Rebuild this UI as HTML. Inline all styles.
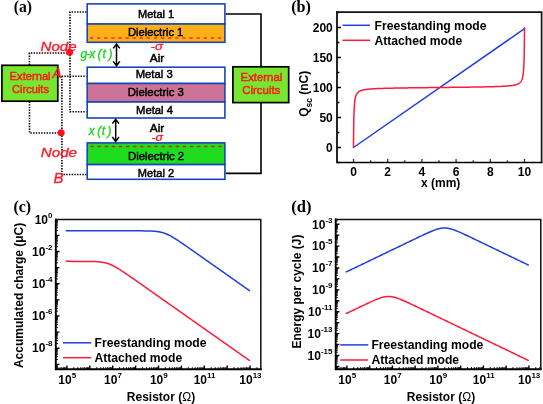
<!DOCTYPE html>
<html><head><meta charset="utf-8"><title>Figure</title>
<style>html,body{margin:0;padding:0;background:#fff}svg{display:block}text{white-space:pre}</style>
</head><body>
<svg width="543" height="404" viewBox="0 0 543 404">
<rect width="543" height="404" fill="#fff"/>
<g id="panel-a">
<text x="13.8" y="11.8" font-family='"Liberation Serif", "Times New Roman", serif' font-weight="bold" font-size="16.5" textLength="18.2" lengthAdjust="spacingAndGlyphs">(a)</text>
<path d="M86.5 12 H70 V111.8 H86.5" stroke="#000" stroke-width="1.6" stroke-dasharray="1.4 1.3" fill="none"/>
<path d="M29.4 65 V53 H70" stroke="#000" stroke-width="1.6" stroke-dasharray="1.4 1.3" fill="none"/>
<path d="M59 76.2 H86.5" stroke="#000" stroke-width="1.6" stroke-dasharray="1.4 1.3" fill="none"/>
<path d="M61.9 76.2 V174.5 H86.5" stroke="#000" stroke-width="1.6" stroke-dasharray="1.4 1.3" fill="none"/>
<path d="M29.5 101.5 V133 H61" stroke="#000" stroke-width="1.6" stroke-dasharray="1.4 1.3" fill="none"/>
<path d="M225.5 14 H261 V173.4 H225.5" stroke="#000" stroke-width="1.6" fill="none"/>
<rect x="87.2" y="3.9" width="137.70" height="20.10" fill="#fff" stroke="#1846b8" stroke-width="1.6"/>
<rect x="87.2" y="24.0" width="137.70" height="18.30" fill="#fbb016" stroke="#1846b8" stroke-width="1.6"/>
<rect x="87.2" y="67.2" width="137.70" height="16.30" fill="#fff" stroke="#1846b8" stroke-width="1.6"/>
<rect x="87.2" y="83.5" width="137.70" height="18.50" fill="#cd7397" stroke="#1846b8" stroke-width="1.6"/>
<rect x="87.2" y="102" width="137.70" height="16.00" fill="#fff" stroke="#1846b8" stroke-width="1.6"/>
<rect x="87.2" y="142.9" width="137.70" height="21.70" fill="#1fdc1f" stroke="#1846b8" stroke-width="1.6"/>
<rect x="87.2" y="164.6" width="137.70" height="14.70" fill="#fff" stroke="#1846b8" stroke-width="1.6"/>
<path d="M90 37.9 H223" stroke="#ff2a2a" stroke-width="1.5" stroke-dasharray="3.3 3.8" fill="none"/>
<path d="M90.5 146.4 H223" stroke="#d4260e" stroke-width="1.5" stroke-dasharray="3.3 3.8" fill="none"/>
<rect x="1.9" y="65.3" width="55.9" height="35.9" fill="#77e631" stroke="#000" stroke-width="1.7"/>
<rect x="232.9" y="66.8" width="55.8" height="35.8" fill="#77e631" stroke="#000" stroke-width="1.7"/>
<text x="138" y="17.7" font-family='"Liberation Sans", Arial, Helvetica, sans-serif' font-size="11.6" fill="#000" stroke="#000" stroke-width="0.5" textLength="36.2" lengthAdjust="spacingAndGlyphs" >Metal 1</text>
<text x="128" y="35.5" font-family='"Liberation Sans", Arial, Helvetica, sans-serif' font-size="11.6" fill="#000" stroke="#000" stroke-width="0.5" textLength="55.3" lengthAdjust="spacingAndGlyphs" >Dielectric 1</text>
<text x="135.7" y="78.3" font-family='"Liberation Sans", Arial, Helvetica, sans-serif' font-size="11.6" fill="#000" stroke="#000" stroke-width="0.5" textLength="37.0" lengthAdjust="spacingAndGlyphs" >Metal 3</text>
<text x="127.8" y="96.3" font-family='"Liberation Sans", Arial, Helvetica, sans-serif' font-size="11.6" fill="#000" stroke="#000" stroke-width="0.5" textLength="56.1" lengthAdjust="spacingAndGlyphs" >Dielectric 3</text>
<text x="136" y="114" font-family='"Liberation Sans", Arial, Helvetica, sans-serif' font-size="11.6" fill="#000" stroke="#000" stroke-width="0.5" textLength="37.0" lengthAdjust="spacingAndGlyphs" >Metal 4</text>
<text x="128" y="159.6" font-family='"Liberation Sans", Arial, Helvetica, sans-serif' font-size="11.6" fill="#000" stroke="#000" stroke-width="0.5" textLength="56.1" lengthAdjust="spacingAndGlyphs" >Dielectric 2</text>
<text x="137.8" y="176.7" font-family='"Liberation Sans", Arial, Helvetica, sans-serif' font-size="11.6" fill="#000" stroke="#000" stroke-width="0.5" textLength="36.3" lengthAdjust="spacingAndGlyphs" >Metal 2</text>
<text x="149.8" y="61.5" font-family='"Liberation Sans", Arial, Helvetica, sans-serif' font-size="11.6" fill="#000" stroke="#000" stroke-width="0.5" textLength="14.5" lengthAdjust="spacingAndGlyphs" >Air</text>
<text x="149.8" y="131.8" font-family='"Liberation Sans", Arial, Helvetica, sans-serif' font-size="11.6" fill="#000" stroke="#000" stroke-width="0.5" textLength="14.5" lengthAdjust="spacingAndGlyphs" >Air</text>
<text x="9.6" y="79.7" font-family='"Liberation Sans", Arial, Helvetica, sans-serif' font-size="11.8" fill="#ff1a1a" stroke="#ff1a1a" stroke-width="0.5" textLength="41.0" lengthAdjust="spacingAndGlyphs" >External</text>
<text x="12" y="93" font-family='"Liberation Sans", Arial, Helvetica, sans-serif' font-size="11.8" fill="#ff1a1a" stroke="#ff1a1a" stroke-width="0.5" textLength="37.0" lengthAdjust="spacingAndGlyphs" >Circuits</text>
<text x="240.6" y="80.7" font-family='"Liberation Sans", Arial, Helvetica, sans-serif' font-size="11.8" fill="#ff1a1a" stroke="#ff1a1a" stroke-width="0.5" textLength="41.7" lengthAdjust="spacingAndGlyphs" >External</text>
<text x="242.3" y="94" font-family='"Liberation Sans", Arial, Helvetica, sans-serif' font-size="11.8" fill="#ff1a1a" stroke="#ff1a1a" stroke-width="0.5" textLength="38.0" lengthAdjust="spacingAndGlyphs" >Circuits</text>
<text x="40.5" y="51.4" font-family='"Liberation Sans", Arial, Helvetica, sans-serif' font-size="13" fill="#ff1a2a" stroke="#ff1a2a" stroke-width="0.35" textLength="36.1" lengthAdjust="spacingAndGlyphs" font-style="italic">Node</text>
<text x="52.4" y="77.6" font-family='"Liberation Sans", Arial, Helvetica, sans-serif' font-size="14.5" fill="#ff1a2a" stroke="#ff1a2a" stroke-width="0.35" textLength="9.2" lengthAdjust="spacingAndGlyphs" font-style="italic">A</text>
<text x="40.8" y="157.4" font-family='"Liberation Sans", Arial, Helvetica, sans-serif' font-size="13" fill="#ff1a2a" stroke="#ff1a2a" stroke-width="0.35" textLength="36.2" lengthAdjust="spacingAndGlyphs" font-style="italic">Node</text>
<text x="53.6" y="183" font-family='"Liberation Sans", Arial, Helvetica, sans-serif' font-size="14.5" fill="#ff1a2a" stroke="#ff1a2a" stroke-width="0.35" textLength="10.0" lengthAdjust="spacingAndGlyphs" font-style="italic">B</text>
<text x="150.6" y="50.4" font-family='"Liberation Sans", Arial, Helvetica, sans-serif' font-size="11" fill="#ff1a2a" stroke="#ff1a2a" stroke-width="0.35" textLength="12.2" lengthAdjust="spacingAndGlyphs" font-style="italic">-σ</text>
<text x="151.4" y="141.2" font-family='"Liberation Sans", Arial, Helvetica, sans-serif' font-size="11" fill="#ff1a2a" stroke="#ff1a2a" stroke-width="0.35" textLength="11.4" lengthAdjust="spacingAndGlyphs" font-style="italic">-σ</text>
<text x="80.4 86.4 89.2 97.6 102.5 108.4" y="57.8" font-family='"Liberation Sans", Arial, Helvetica, sans-serif' font-style="italic" fill="#22d422" stroke="#22d422" stroke-width="0.35" font-size="12">g-x(t)</text>
<text x="88.7 97.2 101.7 107.4" y="134.8" font-family='"Liberation Sans", Arial, Helvetica, sans-serif' font-style="italic" fill="#22d422" stroke="#22d422" stroke-width="0.35" font-size="12">x(t)</text>
<circle cx="69.6" cy="52.3" r="3.5" fill="#ff1020"/>
<circle cx="61.2" cy="132.8" r="3.5" fill="#ff1020"/>
<path d="M116.5 44.0 V65.8 M113.2 48.4 L116.5 44.0 L119.8 48.4 M113.2 61.4 L116.5 65.8 L119.8 61.4" stroke="#000" stroke-width="1.5" fill="none" stroke-linejoin="miter"/>
<path d="M115.7 119.2 V141.39999999999998 M112.4 123.60000000000001 L115.7 119.2 L119.0 123.60000000000001 M112.4 136.99999999999997 L115.7 141.39999999999998 L119.0 136.99999999999997" stroke="#000" stroke-width="1.5" fill="none" stroke-linejoin="miter"/>
</g>
<g id="panel-b">
<text x="291.2" y="11.8" font-family='"Liberation Serif", "Times New Roman", serif' font-weight="bold" font-size="16.5" textLength="19.8" lengthAdjust="spacingAndGlyphs">(b)</text>
<path d="M353.50 162.5 v-3.6 M370.60 162.5 v-2.2 M387.70 162.5 v-3.6 M404.80 162.5 v-2.2 M421.90 162.5 v-3.6 M439.00 162.5 v-2.2 M456.10 162.5 v-3.6 M473.20 162.5 v-2.2 M490.30 162.5 v-3.6 M507.40 162.5 v-2.2 M524.50 162.5 v-3.6" stroke="#1c2cb0" stroke-width="1.3" fill="none"/>
<path d="M337 162.50 h2.4 M337 147.50 h4.0 M337 132.50 h2.4 M337 117.50 h4.0 M337 102.50 h2.4 M337 87.50 h4.0 M337 72.50 h2.4 M337 57.50 h4.0 M337 42.50 h2.4 M337 27.50 h4.0 M337 12.50 h2.4" stroke="#000" stroke-width="1.4" fill="none"/>
<path d="M353.50 147.50 L524.50 28.70" stroke="#1f3fe0" stroke-width="1.5" fill="none" stroke-linejoin="round" stroke-linecap="round"/>
<path d="M353.50 147.22 L353.50 147.22 L353.50 147.22 L353.50 147.22 L353.50 147.22 L353.50 147.21 L353.50 147.20 L353.50 147.18 L353.50 147.15 L353.50 147.12 L353.50 147.06 L353.50 146.99 L353.50 146.89 L353.50 146.77 L353.50 146.62 L353.51 146.43 L353.51 146.20 L353.51 145.93 L353.51 145.61 L353.51 145.23 L353.52 144.80 L353.52 144.30 L353.52 143.74 L353.53 143.11 L353.53 142.42 L353.54 141.65 L353.55 140.81 L353.55 139.89 L353.56 138.91 L353.57 137.86 L353.58 136.75 L353.59 135.57 L353.60 134.35 L353.62 133.07 L353.63 131.75 L353.65 130.40 L353.67 129.01 L353.69 127.61 L353.71 126.20 L353.73 124.78 L353.75 123.36 L353.78 121.95 L353.81 120.55 L353.84 119.18 L353.87 117.83 L353.90 116.51 L353.94 115.22 L353.98 113.97 L354.02 112.76 L354.06 111.59 L354.11 110.46 L354.16 109.38 L354.21 108.34 L354.27 107.34 L354.33 106.39 L354.39 105.48 L354.45 104.62 L354.52 103.79 L354.59 103.01 L354.67 102.26 L354.75 101.55 L354.83 100.88 L354.92 100.24 L355.01 99.64 L355.11 99.07 L355.21 98.53 L355.31 98.01 L355.42 97.53 L355.54 97.07 L355.66 96.63 L355.78 96.22 L355.91 95.83 L356.04 95.46 L356.18 95.11 L356.33 94.78 L356.48 94.46 L356.63 94.17 L356.80 93.88 L356.96 93.62 L357.14 93.36 L357.32 93.12 L357.50 92.90 L357.70 92.68 L357.90 92.47 L358.10 92.28 L358.32 92.09 L358.54 91.92 L358.76 91.75 L359.00 91.59 L359.24 91.44 L359.48 91.30 L359.74 91.16 L360.00 91.03 L360.27 90.90 L360.55 90.79 L360.84 90.67 L361.13 90.56 L361.43 90.46 L361.74 90.36 L362.06 90.27 L362.39 90.18 L362.73 90.09 L363.07 90.01 L363.42 89.93 L363.78 89.85 L364.15 89.78 L364.53 89.71 L364.92 89.64 L365.32 89.58 L365.72 89.52 L366.14 89.46 L366.56 89.40 L367.00 89.35 L367.44 89.30 L367.89 89.25 L368.35 89.20 L368.82 89.15 L369.31 89.10 L369.80 89.06 L370.30 89.02 L370.81 88.98 L371.33 88.94 L371.85 88.90 L372.39 88.86 L372.94 88.83 L373.50 88.79 L374.07 88.76 L374.65 88.73 L375.24 88.70 L375.84 88.67 L376.44 88.64 L377.06 88.61 L377.69 88.58 L378.33 88.55 L378.98 88.53 L379.63 88.50 L380.30 88.48 L380.98 88.45 L381.66 88.43 L382.36 88.41 L383.07 88.38 L383.78 88.36 L384.51 88.34 L385.24 88.32 L385.99 88.30 L386.74 88.28 L387.50 88.26 L388.27 88.24 L389.05 88.22 L389.84 88.20 L390.64 88.18 L391.45 88.17 L392.27 88.15 L393.09 88.13 L393.93 88.11 L394.77 88.10 L395.62 88.08 L396.48 88.07 L397.35 88.05 L398.23 88.03 L399.11 88.02 L400.00 88.00 L400.90 87.99 L401.80 87.97 L402.72 87.96 L403.64 87.94 L404.57 87.93 L405.50 87.92 L406.44 87.90 L407.39 87.89 L408.35 87.87 L409.31 87.86 L410.27 87.85 L411.25 87.83 L412.22 87.82 L413.21 87.81 L414.20 87.79 L415.19 87.78 L416.19 87.77 L417.19 87.76 L418.20 87.74 L419.21 87.73 L420.23 87.72 L421.25 87.71 L422.28 87.69 L423.30 87.68 L424.34 87.67 L425.37 87.66 L426.41 87.64 L427.45 87.63 L428.49 87.62 L429.53 87.61 L430.58 87.60 L431.63 87.58 L432.68 87.57 L433.73 87.56 L434.78 87.55 L435.84 87.54 L436.89 87.52 L437.95 87.51 L439.00 87.50 L440.05 87.49 L441.11 87.48 L442.16 87.46 L443.22 87.45 L444.27 87.44 L445.32 87.43 L446.37 87.42 L447.42 87.40 L448.47 87.39 L449.51 87.38 L450.55 87.37 L451.59 87.36 L452.63 87.34 L453.66 87.33 L454.70 87.32 L455.72 87.31 L456.75 87.29 L457.77 87.28 L458.79 87.27 L459.80 87.26 L460.81 87.24 L461.81 87.23 L462.81 87.22 L463.80 87.21 L464.79 87.19 L465.78 87.18 L466.75 87.17 L467.73 87.15 L468.69 87.14 L469.65 87.13 L470.61 87.11 L471.56 87.10 L472.50 87.08 L473.43 87.07 L474.36 87.06 L475.28 87.04 L476.20 87.03 L477.10 87.01 L478.00 87.00 L478.89 86.98 L479.77 86.97 L480.65 86.95 L481.52 86.93 L482.38 86.92 L483.23 86.90 L484.07 86.89 L484.91 86.87 L485.73 86.85 L486.55 86.83 L487.36 86.82 L488.16 86.80 L488.95 86.78 L489.73 86.76 L490.50 86.74 L491.26 86.72 L492.01 86.70 L492.76 86.68 L493.49 86.66 L494.22 86.64 L494.93 86.62 L495.64 86.59 L496.34 86.57 L497.02 86.55 L497.70 86.52 L498.37 86.50 L499.02 86.47 L499.67 86.45 L500.31 86.42 L500.94 86.39 L501.56 86.36 L502.16 86.33 L502.76 86.30 L503.35 86.27 L503.93 86.24 L504.50 86.21 L505.06 86.17 L505.61 86.14 L506.15 86.10 L506.67 86.06 L507.19 86.02 L507.70 85.98 L508.20 85.94 L508.69 85.90 L509.18 85.85 L509.65 85.80 L510.11 85.75 L510.56 85.70 L511.00 85.65 L511.44 85.60 L511.86 85.54 L512.28 85.48 L512.68 85.42 L513.08 85.36 L513.47 85.29 L513.85 85.22 L514.22 85.15 L514.58 85.07 L514.93 84.99 L515.27 84.91 L515.61 84.82 L515.94 84.73 L516.26 84.64 L516.57 84.54 L516.87 84.44 L517.16 84.33 L517.45 84.21 L517.73 84.10 L518.00 83.97 L518.26 83.84 L518.52 83.70 L518.76 83.56 L519.00 83.41 L519.24 83.25 L519.46 83.08 L519.68 82.91 L519.90 82.72 L520.10 82.53 L520.30 82.32 L520.50 82.10 L520.68 81.88 L520.86 81.64 L521.04 81.38 L521.20 81.12 L521.37 80.83 L521.52 80.54 L521.67 80.22 L521.82 79.89 L521.96 79.54 L522.09 79.17 L522.22 78.78 L522.34 78.37 L522.46 77.93 L522.58 77.47 L522.69 76.99 L522.79 76.47 L522.89 75.93 L522.99 75.36 L523.08 74.76 L523.17 74.12 L523.25 73.45 L523.33 72.74 L523.41 71.99 L523.48 71.21 L523.55 70.38 L523.61 69.52 L523.67 68.61 L523.73 67.66 L523.79 66.66 L523.84 65.62 L523.89 64.54 L523.94 63.41 L523.98 62.24 L524.02 61.03 L524.06 59.78 L524.10 58.49 L524.13 57.17 L524.16 55.82 L524.19 54.45 L524.22 53.05 L524.25 51.64 L524.27 50.22 L524.29 48.80 L524.31 47.39 L524.33 45.99 L524.35 44.60 L524.37 43.25 L524.38 41.93 L524.40 40.65 L524.41 39.43 L524.42 38.25 L524.43 37.14 L524.44 36.09 L524.45 35.11 L524.45 34.19 L524.46 33.35 L524.47 32.58 L524.47 31.89 L524.48 31.26 L524.48 30.70 L524.48 30.20 L524.49 29.77 L524.49 29.39 L524.49 29.07 L524.49 28.80 L524.49 28.57 L524.50 28.38 L524.50 28.23 L524.50 28.11 L524.50 28.01 L524.50 27.94 L524.50 27.88 L524.50 27.85 L524.50 27.82 L524.50 27.80 L524.50 27.79 L524.50 27.78 L524.50 27.78 L524.50 27.78 L524.50 27.78 L524.50 27.78" stroke="#ff1a3c" stroke-width="1.5" fill="none" stroke-linejoin="round" stroke-linecap="round"/>
<path d="M337 12.2 V162.5 H541.6" stroke="#000" stroke-width="1.7" fill="none" stroke-linecap="square"/>
<path d="M337 12.2 H541.6 V162.5" stroke="#111" stroke-width="1.7" fill="none" stroke-linecap="square"/>
<text x="332.8" y="151.7" font-family='"Liberation Sans", Arial, Helvetica, sans-serif' font-weight="bold" font-size="12" text-anchor="end" >0</text>
<text x="332.8" y="121.7" font-family='"Liberation Sans", Arial, Helvetica, sans-serif' font-weight="bold" font-size="12" text-anchor="end" >50</text>
<text x="332.8" y="91.7" font-family='"Liberation Sans", Arial, Helvetica, sans-serif' font-weight="bold" font-size="12" text-anchor="end" >100</text>
<text x="332.8" y="61.7" font-family='"Liberation Sans", Arial, Helvetica, sans-serif' font-weight="bold" font-size="12" text-anchor="end" >150</text>
<text x="332.8" y="31.7" font-family='"Liberation Sans", Arial, Helvetica, sans-serif' font-weight="bold" font-size="12" text-anchor="end" >200</text>
<text x="353.5" y="175.6" font-family='"Liberation Sans", Arial, Helvetica, sans-serif' font-weight="bold" font-size="12" text-anchor="middle" >0</text>
<text x="387.7" y="175.6" font-family='"Liberation Sans", Arial, Helvetica, sans-serif' font-weight="bold" font-size="12" text-anchor="middle" >2</text>
<text x="421.9" y="175.6" font-family='"Liberation Sans", Arial, Helvetica, sans-serif' font-weight="bold" font-size="12" text-anchor="middle" >4</text>
<text x="456.1" y="175.6" font-family='"Liberation Sans", Arial, Helvetica, sans-serif' font-weight="bold" font-size="12" text-anchor="middle" >6</text>
<text x="490.3" y="175.6" font-family='"Liberation Sans", Arial, Helvetica, sans-serif' font-weight="bold" font-size="12" text-anchor="middle" >8</text>
<text x="524.5" y="175.6" font-family='"Liberation Sans", Arial, Helvetica, sans-serif' font-weight="bold" font-size="12" text-anchor="middle" >10</text>
<text x="440.7" y="186.6" font-family='"Liberation Sans", Arial, Helvetica, sans-serif' font-weight="bold" font-size="12" text-anchor="middle" >x (mm)</text>
<text transform="translate(308.3 93.8) rotate(-90)" font-family='"Liberation Sans", Arial, Helvetica, sans-serif' font-weight="bold" font-size="12" text-anchor="middle">Q<tspan font-size="8.5" dy="3.6">sc</tspan><tspan dy="-3.6"> (nC)</tspan></text>
<path d="M342.5 25.3 H370" stroke="#1f3fe0" stroke-width="1.5"/>
<path d="M342.5 40.3 H370" stroke="#ff1a3c" stroke-width="1.5"/>
<text x="374.5" y="29.7" font-family='"Liberation Sans", Arial, Helvetica, sans-serif' font-weight="bold" font-size="12.15" text-anchor="start" >Freestanding mode</text>
<text x="374.5" y="45" font-family='"Liberation Sans", Arial, Helvetica, sans-serif' font-weight="bold" font-size="12.15" text-anchor="start" >Attached mode</text>
</g>
<g id="panel-c">
<text x="13.5" y="212" font-family='"Liberation Serif", "Times New Roman", serif' font-weight="bold" font-size="16.5" textLength="17.6" lengthAdjust="spacingAndGlyphs">(c)</text>
<path d="M57.79 369.3 v-2.2 M60.01 369.3 v-2.2 M61.82 369.3 v-2.2 M63.35 369.3 v-2.2 M64.68 369.3 v-2.2 M65.85 369.3 v-2.2 M73.79 369.3 v-2.2 M77.83 369.3 v-2.2 M80.69 369.3 v-2.2 M82.91 369.3 v-2.2 M84.72 369.3 v-2.2 M86.25 369.3 v-2.2 M87.58 369.3 v-2.2 M88.75 369.3 v-2.2 M96.69 369.3 v-2.2 M100.73 369.3 v-2.2 M103.59 369.3 v-2.2 M105.81 369.3 v-2.2 M107.62 369.3 v-2.2 M109.15 369.3 v-2.2 M110.48 369.3 v-2.2 M111.65 369.3 v-2.2 M119.59 369.3 v-2.2 M123.63 369.3 v-2.2 M126.49 369.3 v-2.2 M128.71 369.3 v-2.2 M130.52 369.3 v-2.2 M132.05 369.3 v-2.2 M133.38 369.3 v-2.2 M134.55 369.3 v-2.2 M142.49 369.3 v-2.2 M146.53 369.3 v-2.2 M149.39 369.3 v-2.2 M151.61 369.3 v-2.2 M153.42 369.3 v-2.2 M154.95 369.3 v-2.2 M156.28 369.3 v-2.2 M157.45 369.3 v-2.2 M165.39 369.3 v-2.2 M169.43 369.3 v-2.2 M172.29 369.3 v-2.2 M174.51 369.3 v-2.2 M176.32 369.3 v-2.2 M177.85 369.3 v-2.2 M179.18 369.3 v-2.2 M180.35 369.3 v-2.2 M188.29 369.3 v-2.2 M192.33 369.3 v-2.2 M195.19 369.3 v-2.2 M197.41 369.3 v-2.2 M199.22 369.3 v-2.2 M200.75 369.3 v-2.2 M202.08 369.3 v-2.2 M203.25 369.3 v-2.2 M211.19 369.3 v-2.2 M215.23 369.3 v-2.2 M218.09 369.3 v-2.2 M220.31 369.3 v-2.2 M222.12 369.3 v-2.2 M223.65 369.3 v-2.2 M224.98 369.3 v-2.2 M226.15 369.3 v-2.2 M234.09 369.3 v-2.2 M238.13 369.3 v-2.2 M240.99 369.3 v-2.2 M243.21 369.3 v-2.2 M245.02 369.3 v-2.2 M246.55 369.3 v-2.2 M247.88 369.3 v-2.2 M249.05 369.3 v-2.2 M256.99 369.3 v-2.2" stroke="#000" stroke-width="0.9" fill="none"/>
<path d="M66.90 369.3 v-3.7 M89.80 369.3 v-3.7 M112.70 369.3 v-3.7 M135.60 369.3 v-3.7 M158.50 369.3 v-3.7 M181.40 369.3 v-3.7 M204.30 369.3 v-3.7 M227.20 369.3 v-3.7 M250.10 369.3 v-3.7" stroke="#000" stroke-width="1.4" fill="none"/>
<path d="M55.8 369.23 h2.2 M55.8 367.96 h2.2 M55.8 366.88 h2.2 M55.8 365.94 h2.2 M55.8 365.12 h2.2 M55.8 359.53 h2.2 M55.8 356.69 h2.2 M55.8 354.67 h2.2 M55.8 353.11 h2.2 M55.8 351.84 h2.2 M55.8 350.76 h2.2 M55.8 349.82 h2.2 M55.8 349.00 h2.2 M55.8 343.41 h2.2 M55.8 340.57 h2.2 M55.8 338.55 h2.2 M55.8 336.99 h2.2 M55.8 335.72 h2.2 M55.8 334.64 h2.2 M55.8 333.70 h2.2 M55.8 332.88 h2.2 M55.8 327.29 h2.2 M55.8 324.45 h2.2 M55.8 322.43 h2.2 M55.8 320.87 h2.2 M55.8 319.60 h2.2 M55.8 318.52 h2.2 M55.8 317.58 h2.2 M55.8 316.76 h2.2 M55.8 311.17 h2.2 M55.8 308.33 h2.2 M55.8 306.31 h2.2 M55.8 304.75 h2.2 M55.8 303.48 h2.2 M55.8 302.40 h2.2 M55.8 301.46 h2.2 M55.8 300.64 h2.2 M55.8 295.05 h2.2 M55.8 292.21 h2.2 M55.8 290.19 h2.2 M55.8 288.63 h2.2 M55.8 287.36 h2.2 M55.8 286.28 h2.2 M55.8 285.34 h2.2 M55.8 284.52 h2.2 M55.8 278.93 h2.2 M55.8 276.09 h2.2 M55.8 274.07 h2.2 M55.8 272.51 h2.2 M55.8 271.24 h2.2 M55.8 270.16 h2.2 M55.8 269.22 h2.2 M55.8 268.40 h2.2 M55.8 262.81 h2.2 M55.8 259.97 h2.2 M55.8 257.95 h2.2 M55.8 256.39 h2.2 M55.8 255.12 h2.2 M55.8 254.04 h2.2 M55.8 253.10 h2.2 M55.8 252.28 h2.2 M55.8 246.69 h2.2 M55.8 243.85 h2.2 M55.8 241.83 h2.2 M55.8 240.27 h2.2 M55.8 239.00 h2.2 M55.8 237.92 h2.2 M55.8 236.98 h2.2 M55.8 236.16 h2.2 M55.8 230.57 h2.2 M55.8 227.73 h2.2 M55.8 225.71 h2.2 M55.8 224.15 h2.2 M55.8 222.88 h2.2 M55.8 221.80 h2.2 M55.8 220.86 h2.2 M55.8 220.04 h2.2" stroke="#000" stroke-width="0.9" fill="none"/>
<path d="M55.8 364.38 h3.7 M55.8 348.26 h3.7 M55.8 332.14 h3.7 M55.8 316.02 h3.7 M55.8 299.90 h3.7 M55.8 283.78 h3.7 M55.8 267.66 h3.7 M55.8 251.54 h3.7 M55.8 235.42 h3.7" stroke="#000" stroke-width="1.4" fill="none"/>
<path d="M66.30 230.83 L66.87 230.83 L67.45 230.83 L68.02 230.83 L68.59 230.83 L69.16 230.83 L69.74 230.83 L70.31 230.83 L70.88 230.83 L71.45 230.83 L72.03 230.83 L72.60 230.83 L73.17 230.83 L73.74 230.83 L74.31 230.83 L74.89 230.83 L75.46 230.83 L76.03 230.83 L76.61 230.83 L77.18 230.83 L77.75 230.83 L78.32 230.83 L78.90 230.83 L79.47 230.83 L80.04 230.83 L80.61 230.83 L81.19 230.83 L81.76 230.83 L82.33 230.83 L82.90 230.83 L83.48 230.83 L84.05 230.83 L84.62 230.83 L85.19 230.83 L85.77 230.83 L86.34 230.83 L86.91 230.83 L87.48 230.83 L88.06 230.83 L88.63 230.83 L89.20 230.83 L89.77 230.83 L90.34 230.83 L90.92 230.83 L91.49 230.83 L92.06 230.83 L92.64 230.83 L93.21 230.83 L93.78 230.83 L94.35 230.83 L94.93 230.83 L95.50 230.83 L96.07 230.83 L96.64 230.83 L97.22 230.83 L97.79 230.83 L98.36 230.83 L98.93 230.83 L99.51 230.83 L100.08 230.83 L100.65 230.83 L101.22 230.83 L101.80 230.83 L102.37 230.83 L102.94 230.83 L103.51 230.83 L104.09 230.83 L104.66 230.83 L105.23 230.83 L105.80 230.83 L106.38 230.83 L106.95 230.83 L107.52 230.83 L108.09 230.83 L108.66 230.83 L109.24 230.83 L109.81 230.83 L110.38 230.83 L110.96 230.83 L111.53 230.83 L112.10 230.83 L112.67 230.83 L113.25 230.83 L113.82 230.83 L114.39 230.83 L114.96 230.83 L115.54 230.83 L116.11 230.83 L116.68 230.83 L117.25 230.83 L117.83 230.83 L118.40 230.83 L118.97 230.83 L119.54 230.83 L120.12 230.83 L120.69 230.83 L121.26 230.83 L121.83 230.83 L122.41 230.83 L122.98 230.83 L123.55 230.83 L124.12 230.83 L124.69 230.83 L125.27 230.83 L125.84 230.83 L126.41 230.83 L126.99 230.83 L127.56 230.83 L128.13 230.83 L128.70 230.83 L129.28 230.83 L129.85 230.83 L130.42 230.83 L130.99 230.83 L131.56 230.83 L132.14 230.83 L132.71 230.83 L133.28 230.83 L133.86 230.83 L134.43 230.83 L135.00 230.83 L135.57 230.84 L136.15 230.84 L136.72 230.84 L137.29 230.84 L137.86 230.84 L138.44 230.84 L139.01 230.85 L139.58 230.85 L140.15 230.85 L140.72 230.85 L141.30 230.86 L141.87 230.86 L142.44 230.87 L143.02 230.87 L143.59 230.88 L144.16 230.88 L144.73 230.89 L145.30 230.90 L145.88 230.91 L146.45 230.92 L147.02 230.93 L147.60 230.94 L148.17 230.95 L148.74 230.97 L149.31 230.99 L149.89 231.00 L150.46 231.03 L151.03 231.05 L151.60 231.08 L152.18 231.11 L152.75 231.14 L153.32 231.17 L153.89 231.21 L154.47 231.26 L155.04 231.31 L155.61 231.36 L156.18 231.42 L156.75 231.49 L157.33 231.56 L157.90 231.64 L158.47 231.73 L159.05 231.83 L159.62 231.93 L160.19 232.05 L160.76 232.17 L161.34 232.30 L161.91 232.45 L162.48 232.60 L163.05 232.77 L163.62 232.94 L164.20 233.13 L164.77 233.33 L165.34 233.55 L165.91 233.77 L166.49 234.00 L167.06 234.25 L167.63 234.51 L168.20 234.77 L168.78 235.05 L169.35 235.34 L169.92 235.64 L170.50 235.94 L171.07 236.25 L171.64 236.58 L172.21 236.90 L172.78 237.24 L173.36 237.58 L173.93 237.93 L174.50 238.28 L175.08 238.64 L175.65 239.00 L176.22 239.37 L176.79 239.74 L177.36 240.11 L177.94 240.49 L178.51 240.86 L179.08 241.25 L179.66 241.63 L180.23 242.01 L180.80 242.40 L181.37 242.79 L181.95 243.18 L182.52 243.57 L183.09 243.97 L183.66 244.36 L184.24 244.76 L184.81 245.15 L185.38 245.55 L185.95 245.94 L186.53 246.34 L187.10 246.74 L187.67 247.14 L188.24 247.54 L188.81 247.94 L189.39 248.34 L189.96 248.74 L190.53 249.14 L191.10 249.54 L191.68 249.94 L192.25 250.34 L192.82 250.75 L193.40 251.15 L193.97 251.55 L194.54 251.95 L195.11 252.35 L195.69 252.76 L196.26 253.16 L196.83 253.56 L197.40 253.96 L197.97 254.37 L198.55 254.77 L199.12 255.17 L199.69 255.57 L200.26 255.98 L200.84 256.38 L201.41 256.78 L201.98 257.18 L202.55 257.59 L203.13 257.99 L203.70 258.39 L204.27 258.80 L204.85 259.20 L205.42 259.60 L205.99 260.00 L206.56 260.41 L207.14 260.81 L207.71 261.21 L208.28 261.62 L208.85 262.02 L209.43 262.42 L210.00 262.82 L210.57 263.23 L211.14 263.63 L211.72 264.03 L212.29 264.44 L212.86 264.84 L213.43 265.24 L214.00 265.65 L214.58 266.05 L215.15 266.45 L215.72 266.85 L216.30 267.26 L216.87 267.66 L217.44 268.06 L218.01 268.47 L218.59 268.87 L219.16 269.27 L219.73 269.68 L220.30 270.08 L220.88 270.48 L221.45 270.88 L222.02 271.29 L222.59 271.69 L223.16 272.09 L223.74 272.50 L224.31 272.90 L224.88 273.30 L225.45 273.71 L226.03 274.11 L226.60 274.51 L227.17 274.91 L227.75 275.32 L228.32 275.72 L228.89 276.12 L229.46 276.53 L230.03 276.93 L230.61 277.33 L231.18 277.74 L231.75 278.14 L232.32 278.54 L232.90 278.94 L233.47 279.35 L234.04 279.75 L234.61 280.15 L235.19 280.56 L235.76 280.96 L236.33 281.36 L236.90 281.77 L237.48 282.17 L238.05 282.57 L238.62 282.97 L239.20 283.38 L239.77 283.78 L240.34 284.18 L240.91 284.59 L241.49 284.99 L242.06 285.39 L242.63 285.80 L243.20 286.20 L243.78 286.60 L244.35 287.00 L244.92 287.41 L245.49 287.81 L246.06 288.21 L246.64 288.62 L247.21 289.02 L247.78 289.42 L248.35 289.83 L248.93 290.23 L249.50 290.63" stroke="#1f3fe0" stroke-width="1.5" fill="none" stroke-linejoin="round" stroke-linecap="round"/>
<path d="M66.30 261.37 L66.87 261.37 L67.45 261.37 L68.02 261.37 L68.59 261.37 L69.16 261.37 L69.74 261.37 L70.31 261.37 L70.88 261.37 L71.45 261.38 L72.03 261.38 L72.60 261.38 L73.17 261.38 L73.74 261.38 L74.31 261.38 L74.89 261.38 L75.46 261.38 L76.03 261.38 L76.61 261.38 L77.18 261.38 L77.75 261.38 L78.32 261.38 L78.90 261.38 L79.47 261.38 L80.04 261.38 L80.61 261.39 L81.19 261.39 L81.76 261.39 L82.33 261.39 L82.90 261.39 L83.48 261.40 L84.05 261.40 L84.62 261.40 L85.19 261.40 L85.77 261.41 L86.34 261.41 L86.91 261.42 L87.48 261.42 L88.06 261.43 L88.63 261.43 L89.20 261.44 L89.77 261.45 L90.34 261.46 L90.92 261.47 L91.49 261.48 L92.06 261.50 L92.64 261.51 L93.21 261.53 L93.78 261.54 L94.35 261.56 L94.93 261.59 L95.50 261.61 L96.07 261.64 L96.64 261.67 L97.22 261.71 L97.79 261.75 L98.36 261.79 L98.93 261.84 L99.51 261.89 L100.08 261.95 L100.65 262.01 L101.22 262.08 L101.80 262.16 L102.37 262.24 L102.94 262.34 L103.51 262.44 L104.09 262.55 L104.66 262.67 L105.23 262.80 L105.80 262.94 L106.38 263.09 L106.95 263.25 L107.52 263.42 L108.09 263.60 L108.66 263.80 L109.24 264.01 L109.81 264.23 L110.38 264.46 L110.96 264.70 L111.53 264.95 L112.10 265.21 L112.67 265.49 L113.25 265.77 L113.82 266.06 L114.39 266.37 L114.96 266.68 L115.54 266.99 L116.11 267.32 L116.68 267.65 L117.25 267.99 L117.83 268.34 L118.40 268.69 L118.97 269.04 L119.54 269.40 L120.12 269.77 L120.69 270.14 L121.26 270.51 L121.83 270.88 L122.41 271.26 L122.98 271.64 L123.55 272.02 L124.12 272.41 L124.69 272.79 L125.27 273.18 L125.84 273.57 L126.41 273.96 L126.99 274.36 L127.56 274.75 L128.13 275.14 L128.70 275.54 L129.28 275.94 L129.85 276.33 L130.42 276.73 L130.99 277.13 L131.56 277.53 L132.14 277.93 L132.71 278.33 L133.28 278.73 L133.86 279.13 L134.43 279.53 L135.00 279.93 L135.57 280.33 L136.15 280.73 L136.72 281.13 L137.29 281.53 L137.86 281.94 L138.44 282.34 L139.01 282.74 L139.58 283.14 L140.15 283.54 L140.72 283.95 L141.30 284.35 L141.87 284.75 L142.44 285.15 L143.02 285.56 L143.59 285.96 L144.16 286.36 L144.73 286.76 L145.30 287.17 L145.88 287.57 L146.45 287.97 L147.02 288.38 L147.60 288.78 L148.17 289.18 L148.74 289.58 L149.31 289.99 L149.89 290.39 L150.46 290.79 L151.03 291.20 L151.60 291.60 L152.18 292.00 L152.75 292.40 L153.32 292.81 L153.89 293.21 L154.47 293.61 L155.04 294.02 L155.61 294.42 L156.18 294.82 L156.75 295.23 L157.33 295.63 L157.90 296.03 L158.47 296.43 L159.05 296.84 L159.62 297.24 L160.19 297.64 L160.76 298.05 L161.34 298.45 L161.91 298.85 L162.48 299.26 L163.05 299.66 L163.62 300.06 L164.20 300.46 L164.77 300.87 L165.34 301.27 L165.91 301.67 L166.49 302.08 L167.06 302.48 L167.63 302.88 L168.20 303.29 L168.78 303.69 L169.35 304.09 L169.92 304.49 L170.50 304.90 L171.07 305.30 L171.64 305.70 L172.21 306.11 L172.78 306.51 L173.36 306.91 L173.93 307.32 L174.50 307.72 L175.08 308.12 L175.65 308.52 L176.22 308.93 L176.79 309.33 L177.36 309.73 L177.94 310.14 L178.51 310.54 L179.08 310.94 L179.66 311.35 L180.23 311.75 L180.80 312.15 L181.37 312.55 L181.95 312.96 L182.52 313.36 L183.09 313.76 L183.66 314.17 L184.24 314.57 L184.81 314.97 L185.38 315.38 L185.95 315.78 L186.53 316.18 L187.10 316.58 L187.67 316.99 L188.24 317.39 L188.81 317.79 L189.39 318.20 L189.96 318.60 L190.53 319.00 L191.10 319.41 L191.68 319.81 L192.25 320.21 L192.82 320.61 L193.40 321.02 L193.97 321.42 L194.54 321.82 L195.11 322.23 L195.69 322.63 L196.26 323.03 L196.83 323.44 L197.40 323.84 L197.97 324.24 L198.55 324.64 L199.12 325.05 L199.69 325.45 L200.26 325.85 L200.84 326.26 L201.41 326.66 L201.98 327.06 L202.55 327.47 L203.13 327.87 L203.70 328.27 L204.27 328.67 L204.85 329.08 L205.42 329.48 L205.99 329.88 L206.56 330.29 L207.14 330.69 L207.71 331.09 L208.28 331.50 L208.85 331.90 L209.43 332.30 L210.00 332.70 L210.57 333.11 L211.14 333.51 L211.72 333.91 L212.29 334.32 L212.86 334.72 L213.43 335.12 L214.00 335.53 L214.58 335.93 L215.15 336.33 L215.72 336.73 L216.30 337.14 L216.87 337.54 L217.44 337.94 L218.01 338.35 L218.59 338.75 L219.16 339.15 L219.73 339.56 L220.30 339.96 L220.88 340.36 L221.45 340.76 L222.02 341.17 L222.59 341.57 L223.16 341.97 L223.74 342.38 L224.31 342.78 L224.88 343.18 L225.45 343.59 L226.03 343.99 L226.60 344.39 L227.17 344.79 L227.75 345.20 L228.32 345.60 L228.89 346.00 L229.46 346.41 L230.03 346.81 L230.61 347.21 L231.18 347.62 L231.75 348.02 L232.32 348.42 L232.90 348.82 L233.47 349.23 L234.04 349.63 L234.61 350.03 L235.19 350.44 L235.76 350.84 L236.33 351.24 L236.90 351.65 L237.48 352.05 L238.05 352.45 L238.62 352.85 L239.20 353.26 L239.77 353.66 L240.34 354.06 L240.91 354.47 L241.49 354.87 L242.06 355.27 L242.63 355.68 L243.20 356.08 L243.78 356.48 L244.35 356.88 L244.92 357.29 L245.49 357.69 L246.06 358.09 L246.64 358.50 L247.21 358.90 L247.78 359.30 L248.35 359.71 L248.93 360.11 L249.50 360.51" stroke="#ff1a3c" stroke-width="1.5" fill="none" stroke-linejoin="round" stroke-linecap="round"/>
<path d="M55.8 219.6 V369.3 H260.8" stroke="#000" stroke-width="1.9" fill="none" stroke-linecap="square"/>
<path d="M55.8 219.6 H260.8 V369.3" stroke="#111" stroke-width="1.5" fill="none" stroke-linecap="square"/>
<text x="52.5" y="223.5" font-family='"Liberation Sans", Arial, Helvetica, sans-serif' font-weight="bold" font-size="12" text-anchor="end">10<tspan font-size="8" dy="-6">0</tspan></text>
<text x="52.5" y="255.74" font-family='"Liberation Sans", Arial, Helvetica, sans-serif' font-weight="bold" font-size="12" text-anchor="end">10<tspan font-size="8" dy="-6">-2</tspan></text>
<text x="52.5" y="287.98" font-family='"Liberation Sans", Arial, Helvetica, sans-serif' font-weight="bold" font-size="12" text-anchor="end">10<tspan font-size="8" dy="-6">-4</tspan></text>
<text x="52.5" y="320.21999999999997" font-family='"Liberation Sans", Arial, Helvetica, sans-serif' font-weight="bold" font-size="12" text-anchor="end">10<tspan font-size="8" dy="-6">-6</tspan></text>
<text x="52.5" y="352.46" font-family='"Liberation Sans", Arial, Helvetica, sans-serif' font-weight="bold" font-size="12" text-anchor="end">10<tspan font-size="8" dy="-6">-8</tspan></text>
<text x="67.2" y="384.3" font-family='"Liberation Sans", Arial, Helvetica, sans-serif' font-weight="bold" font-size="12" text-anchor="middle">10<tspan font-size="8" dy="-6">5</tspan></text>
<text x="113.0" y="384.3" font-family='"Liberation Sans", Arial, Helvetica, sans-serif' font-weight="bold" font-size="12" text-anchor="middle">10<tspan font-size="8" dy="-6">7</tspan></text>
<text x="158.8" y="384.3" font-family='"Liberation Sans", Arial, Helvetica, sans-serif' font-weight="bold" font-size="12" text-anchor="middle">10<tspan font-size="8" dy="-6">9</tspan></text>
<text x="204.6" y="384.3" font-family='"Liberation Sans", Arial, Helvetica, sans-serif' font-weight="bold" font-size="12" text-anchor="middle">10<tspan font-size="8" dy="-6">11</tspan></text>
<text x="250.4" y="384.3" font-family='"Liberation Sans", Arial, Helvetica, sans-serif' font-weight="bold" font-size="12" text-anchor="middle">10<tspan font-size="8" dy="-6">13</tspan></text>
<text x="161" y="400.7" font-family='"Liberation Sans", Arial, Helvetica, sans-serif' font-weight="bold" font-size="12" text-anchor="middle">Resistor (<tspan font-weight="normal">Ω</tspan>)</text>
<text transform="translate(23.2 295.4) rotate(-90)" font-family='"Liberation Sans", Arial, Helvetica, sans-serif' font-weight="bold" font-size="12" text-anchor="middle">Accumulated charge (μC)</text>
<path d="M63 342.8 H91.3" stroke="#1f3fe0" stroke-width="1.5"/>
<path d="M63 357.7 H91.3" stroke="#ff1a3c" stroke-width="1.5"/>
<text x="94.5" y="346.5" font-family='"Liberation Sans", Arial, Helvetica, sans-serif' font-weight="bold" font-size="12.15" text-anchor="start" >Freestanding mode</text>
<text x="94.5" y="361.5" font-family='"Liberation Sans", Arial, Helvetica, sans-serif' font-weight="bold" font-size="12.15" text-anchor="start" >Attached mode</text>
</g>
<g id="panel-d">
<text x="291.2" y="212" font-family='"Liberation Serif", "Times New Roman", serif' font-weight="bold" font-size="16.5" textLength="20.2" lengthAdjust="spacingAndGlyphs">(d)</text>
<path d="M337.85 369.2 v-2.2 M340.05 369.2 v-2.2 M341.85 369.2 v-2.2 M343.38 369.2 v-2.2 M344.70 369.2 v-2.2 M345.86 369.2 v-2.2 M353.75 369.2 v-2.2 M357.75 369.2 v-2.2 M360.60 369.2 v-2.2 M362.80 369.2 v-2.2 M364.60 369.2 v-2.2 M366.13 369.2 v-2.2 M367.45 369.2 v-2.2 M368.61 369.2 v-2.2 M376.50 369.2 v-2.2 M380.50 369.2 v-2.2 M383.35 369.2 v-2.2 M385.55 369.2 v-2.2 M387.35 369.2 v-2.2 M388.88 369.2 v-2.2 M390.20 369.2 v-2.2 M391.36 369.2 v-2.2 M399.25 369.2 v-2.2 M403.25 369.2 v-2.2 M406.10 369.2 v-2.2 M408.30 369.2 v-2.2 M410.10 369.2 v-2.2 M411.63 369.2 v-2.2 M412.95 369.2 v-2.2 M414.11 369.2 v-2.2 M422.00 369.2 v-2.2 M426.00 369.2 v-2.2 M428.85 369.2 v-2.2 M431.05 369.2 v-2.2 M432.85 369.2 v-2.2 M434.38 369.2 v-2.2 M435.70 369.2 v-2.2 M436.86 369.2 v-2.2 M444.75 369.2 v-2.2 M448.75 369.2 v-2.2 M451.60 369.2 v-2.2 M453.80 369.2 v-2.2 M455.60 369.2 v-2.2 M457.13 369.2 v-2.2 M458.45 369.2 v-2.2 M459.61 369.2 v-2.2 M467.50 369.2 v-2.2 M471.50 369.2 v-2.2 M474.35 369.2 v-2.2 M476.55 369.2 v-2.2 M478.35 369.2 v-2.2 M479.88 369.2 v-2.2 M481.20 369.2 v-2.2 M482.36 369.2 v-2.2 M490.25 369.2 v-2.2 M494.25 369.2 v-2.2 M497.10 369.2 v-2.2 M499.30 369.2 v-2.2 M501.10 369.2 v-2.2 M502.63 369.2 v-2.2 M503.95 369.2 v-2.2 M505.11 369.2 v-2.2 M513.00 369.2 v-2.2 M517.00 369.2 v-2.2 M519.85 369.2 v-2.2 M522.05 369.2 v-2.2 M523.85 369.2 v-2.2 M525.38 369.2 v-2.2 M526.70 369.2 v-2.2 M527.86 369.2 v-2.2 M535.75 369.2 v-2.2 M539.75 369.2 v-2.2" stroke="#000" stroke-width="0.9" fill="none"/>
<path d="M346.90 369.2 v-3.7 M369.65 369.2 v-3.7 M392.40 369.2 v-3.7 M415.15 369.2 v-3.7 M437.90 369.2 v-3.7 M460.65 369.2 v-3.7 M483.40 369.2 v-3.7 M506.15 369.2 v-3.7 M528.90 369.2 v-3.7" stroke="#000" stroke-width="1.4" fill="none"/>
<path d="M335.7 368.85 h2.2 M335.7 368.11 h2.2 M335.7 367.48 h2.2 M335.7 366.92 h2.2 M335.7 363.13 h2.2 M335.7 361.20 h2.2 M335.7 359.83 h2.2 M335.7 358.77 h2.2 M335.7 357.91 h2.2 M335.7 357.17 h2.2 M335.7 356.54 h2.2 M335.7 355.98 h2.2 M335.7 352.19 h2.2 M335.7 350.26 h2.2 M335.7 348.89 h2.2 M335.7 347.83 h2.2 M335.7 346.97 h2.2 M335.7 346.23 h2.2 M335.7 345.60 h2.2 M335.7 345.04 h2.2 M335.7 341.25 h2.2 M335.7 339.32 h2.2 M335.7 337.95 h2.2 M335.7 336.89 h2.2 M335.7 336.03 h2.2 M335.7 335.29 h2.2 M335.7 334.66 h2.2 M335.7 334.10 h2.2 M335.7 330.31 h2.2 M335.7 328.38 h2.2 M335.7 327.01 h2.2 M335.7 325.95 h2.2 M335.7 325.09 h2.2 M335.7 324.35 h2.2 M335.7 323.72 h2.2 M335.7 323.16 h2.2 M335.7 319.37 h2.2 M335.7 317.44 h2.2 M335.7 316.07 h2.2 M335.7 315.01 h2.2 M335.7 314.15 h2.2 M335.7 313.41 h2.2 M335.7 312.78 h2.2 M335.7 312.22 h2.2 M335.7 308.43 h2.2 M335.7 306.50 h2.2 M335.7 305.13 h2.2 M335.7 304.07 h2.2 M335.7 303.21 h2.2 M335.7 302.47 h2.2 M335.7 301.84 h2.2 M335.7 301.28 h2.2 M335.7 297.49 h2.2 M335.7 295.56 h2.2 M335.7 294.19 h2.2 M335.7 293.13 h2.2 M335.7 292.27 h2.2 M335.7 291.53 h2.2 M335.7 290.90 h2.2 M335.7 290.34 h2.2 M335.7 286.55 h2.2 M335.7 284.62 h2.2 M335.7 283.25 h2.2 M335.7 282.19 h2.2 M335.7 281.33 h2.2 M335.7 280.59 h2.2 M335.7 279.96 h2.2 M335.7 279.40 h2.2 M335.7 275.61 h2.2 M335.7 273.68 h2.2 M335.7 272.31 h2.2 M335.7 271.25 h2.2 M335.7 270.39 h2.2 M335.7 269.65 h2.2 M335.7 269.02 h2.2 M335.7 268.46 h2.2 M335.7 264.67 h2.2 M335.7 262.74 h2.2 M335.7 261.37 h2.2 M335.7 260.31 h2.2 M335.7 259.45 h2.2 M335.7 258.71 h2.2 M335.7 258.08 h2.2 M335.7 257.52 h2.2 M335.7 253.73 h2.2 M335.7 251.80 h2.2 M335.7 250.43 h2.2 M335.7 249.37 h2.2 M335.7 248.51 h2.2 M335.7 247.77 h2.2 M335.7 247.14 h2.2 M335.7 246.58 h2.2 M335.7 242.79 h2.2 M335.7 240.86 h2.2 M335.7 239.49 h2.2 M335.7 238.43 h2.2 M335.7 237.57 h2.2 M335.7 236.83 h2.2 M335.7 236.20 h2.2 M335.7 235.64 h2.2 M335.7 231.85 h2.2 M335.7 229.92 h2.2 M335.7 228.55 h2.2 M335.7 227.49 h2.2 M335.7 226.63 h2.2 M335.7 225.89 h2.2 M335.7 225.26 h2.2 M335.7 224.70 h2.2 M335.7 220.91 h2.2" stroke="#000" stroke-width="0.9" fill="none"/>
<path d="M335.7 366.42 h3.7 M335.7 355.48 h3.7 M335.7 344.54 h3.7 M335.7 333.60 h3.7 M335.7 322.66 h3.7 M335.7 311.72 h3.7 M335.7 300.78 h3.7 M335.7 289.84 h3.7 M335.7 278.90 h3.7 M335.7 267.96 h3.7 M335.7 257.02 h3.7 M335.7 246.08 h3.7 M335.7 235.14 h3.7 M335.7 224.20 h3.7" stroke="#000" stroke-width="1.4" fill="none"/>
<path d="M346.30 271.93 L346.87 271.66 L347.44 271.38 L348.01 271.11 L348.57 270.84 L349.14 270.56 L349.71 270.29 L350.28 270.01 L350.85 269.74 L351.42 269.47 L351.99 269.19 L352.56 268.92 L353.12 268.65 L353.69 268.37 L354.26 268.10 L354.83 267.83 L355.40 267.55 L355.97 267.28 L356.54 267.01 L357.11 266.73 L357.67 266.46 L358.24 266.19 L358.81 265.91 L359.38 265.64 L359.95 265.37 L360.52 265.09 L361.09 264.82 L361.66 264.54 L362.22 264.27 L362.79 264.00 L363.36 263.72 L363.93 263.45 L364.50 263.18 L365.07 262.90 L365.64 262.63 L366.21 262.36 L366.77 262.08 L367.34 261.81 L367.91 261.54 L368.48 261.26 L369.05 260.99 L369.62 260.72 L370.19 260.44 L370.76 260.17 L371.32 259.90 L371.89 259.62 L372.46 259.35 L373.03 259.07 L373.60 258.80 L374.17 258.53 L374.74 258.25 L375.31 257.98 L375.87 257.71 L376.44 257.43 L377.01 257.16 L377.58 256.89 L378.15 256.61 L378.72 256.34 L379.29 256.07 L379.86 255.79 L380.42 255.52 L380.99 255.25 L381.56 254.97 L382.13 254.70 L382.70 254.43 L383.27 254.15 L383.84 253.88 L384.41 253.60 L384.97 253.33 L385.54 253.06 L386.11 252.78 L386.68 252.51 L387.25 252.24 L387.82 251.96 L388.39 251.69 L388.96 251.42 L389.52 251.14 L390.09 250.87 L390.66 250.60 L391.23 250.32 L391.80 250.05 L392.37 249.78 L392.94 249.50 L393.51 249.23 L394.07 248.96 L394.64 248.68 L395.21 248.41 L395.78 248.13 L396.35 247.86 L396.92 247.59 L397.49 247.31 L398.06 247.04 L398.62 246.77 L399.19 246.49 L399.76 246.22 L400.33 245.95 L400.90 245.67 L401.47 245.40 L402.04 245.13 L402.61 244.85 L403.17 244.58 L403.74 244.31 L404.31 244.03 L404.88 243.76 L405.45 243.49 L406.02 243.21 L406.59 242.94 L407.16 242.67 L407.72 242.39 L408.29 242.12 L408.86 241.85 L409.43 241.57 L410.00 241.30 L410.57 241.03 L411.14 240.76 L411.71 240.48 L412.27 240.21 L412.84 239.94 L413.41 239.66 L413.98 239.39 L414.55 239.12 L415.12 238.85 L415.69 238.58 L416.26 238.30 L416.82 238.03 L417.39 237.76 L417.96 237.49 L418.53 237.22 L419.10 236.95 L419.67 236.68 L420.24 236.41 L420.81 236.14 L421.38 235.87 L421.94 235.60 L422.51 235.34 L423.08 235.07 L423.65 234.80 L424.22 234.54 L424.79 234.27 L425.36 234.01 L425.92 233.75 L426.49 233.49 L427.06 233.23 L427.63 232.97 L428.20 232.72 L428.77 232.46 L429.34 232.21 L429.91 231.97 L430.47 231.72 L431.04 231.48 L431.61 231.24 L432.18 231.01 L432.75 230.78 L433.32 230.55 L433.89 230.33 L434.46 230.12 L435.02 229.91 L435.59 229.71 L436.16 229.52 L436.73 229.34 L437.30 229.16 L437.87 229.00 L438.44 228.84 L439.01 228.70 L439.57 228.57 L440.14 228.45 L440.71 228.34 L441.28 228.25 L441.85 228.17 L442.42 228.10 L442.99 228.06 L443.56 228.02 L444.12 228.00 L444.69 228.00 L445.26 228.01 L445.83 228.04 L446.40 228.09 L446.97 228.15 L447.54 228.22 L448.11 228.31 L448.67 228.41 L449.24 228.53 L449.81 228.66 L450.38 228.80 L450.95 228.95 L451.52 229.11 L452.09 229.28 L452.66 229.46 L453.22 229.65 L453.79 229.85 L454.36 230.05 L454.93 230.27 L455.50 230.48 L456.07 230.71 L456.64 230.93 L457.21 231.17 L457.77 231.40 L458.34 231.64 L458.91 231.89 L459.48 232.13 L460.05 232.38 L460.62 232.64 L461.19 232.89 L461.76 233.15 L462.32 233.41 L462.89 233.67 L463.46 233.93 L464.03 234.19 L464.60 234.45 L465.17 234.72 L465.74 234.98 L466.31 235.25 L466.88 235.52 L467.44 235.79 L468.01 236.05 L468.58 236.32 L469.15 236.59 L469.72 236.86 L470.29 237.13 L470.86 237.40 L471.42 237.67 L471.99 237.95 L472.56 238.22 L473.13 238.49 L473.70 238.76 L474.27 239.03 L474.84 239.31 L475.41 239.58 L475.97 239.85 L476.54 240.12 L477.11 240.40 L477.68 240.67 L478.25 240.94 L478.82 241.21 L479.39 241.49 L479.96 241.76 L480.52 242.03 L481.09 242.31 L481.66 242.58 L482.23 242.85 L482.80 243.13 L483.37 243.40 L483.94 243.67 L484.51 243.95 L485.07 244.22 L485.64 244.49 L486.21 244.77 L486.78 245.04 L487.35 245.31 L487.92 245.59 L488.49 245.86 L489.06 246.13 L489.62 246.41 L490.19 246.68 L490.76 246.95 L491.33 247.23 L491.90 247.50 L492.47 247.77 L493.04 248.05 L493.61 248.32 L494.17 248.59 L494.74 248.87 L495.31 249.14 L495.88 249.42 L496.45 249.69 L497.02 249.96 L497.59 250.24 L498.16 250.51 L498.72 250.78 L499.29 251.06 L499.86 251.33 L500.43 251.60 L501.00 251.88 L501.57 252.15 L502.14 252.42 L502.71 252.70 L503.27 252.97 L503.84 253.24 L504.41 253.52 L504.98 253.79 L505.55 254.06 L506.12 254.34 L506.69 254.61 L507.26 254.88 L507.82 255.16 L508.39 255.43 L508.96 255.71 L509.53 255.98 L510.10 256.25 L510.67 256.53 L511.24 256.80 L511.81 257.07 L512.38 257.35 L512.94 257.62 L513.51 257.89 L514.08 258.17 L514.65 258.44 L515.22 258.71 L515.79 258.99 L516.36 259.26 L516.92 259.53 L517.49 259.81 L518.06 260.08 L518.63 260.35 L519.20 260.63 L519.77 260.90 L520.34 261.18 L520.91 261.45 L521.47 261.72 L522.04 262.00 L522.61 262.27 L523.18 262.54 L523.75 262.82 L524.32 263.09 L524.89 263.36 L525.46 263.64 L526.02 263.91 L526.59 264.18 L527.16 264.46 L527.73 264.73 L528.30 265.00" stroke="#1f3fe0" stroke-width="1.5" fill="none" stroke-linejoin="round" stroke-linecap="round"/>
<path d="M346.30 313.55 L346.87 313.28 L347.44 313.00 L348.01 312.73 L348.57 312.46 L349.14 312.18 L349.71 311.91 L350.28 311.64 L350.85 311.36 L351.42 311.09 L351.99 310.82 L352.56 310.54 L353.12 310.27 L353.69 310.00 L354.26 309.72 L354.83 309.45 L355.40 309.18 L355.97 308.90 L356.54 308.63 L357.11 308.36 L357.67 308.09 L358.24 307.81 L358.81 307.54 L359.38 307.27 L359.95 307.00 L360.52 306.73 L361.09 306.46 L361.66 306.18 L362.22 305.91 L362.79 305.64 L363.36 305.37 L363.93 305.10 L364.50 304.83 L365.07 304.56 L365.64 304.29 L366.21 304.03 L366.77 303.76 L367.34 303.49 L367.91 303.23 L368.48 302.96 L369.05 302.70 L369.62 302.44 L370.19 302.17 L370.76 301.91 L371.32 301.66 L371.89 301.40 L372.46 301.14 L373.03 300.89 L373.60 300.64 L374.17 300.40 L374.74 300.15 L375.31 299.91 L375.87 299.67 L376.44 299.44 L377.01 299.21 L377.58 298.99 L378.15 298.77 L378.72 298.56 L379.29 298.36 L379.86 298.16 L380.42 297.97 L380.99 297.79 L381.56 297.62 L382.13 297.45 L382.70 297.30 L383.27 297.16 L383.84 297.03 L384.41 296.92 L384.97 296.81 L385.54 296.72 L386.11 296.65 L386.68 296.59 L387.25 296.54 L387.82 296.51 L388.39 296.50 L388.96 296.50 L389.52 296.52 L390.09 296.55 L390.66 296.60 L391.23 296.67 L391.80 296.74 L392.37 296.84 L392.94 296.94 L393.51 297.06 L394.07 297.19 L394.64 297.34 L395.21 297.49 L395.78 297.66 L396.35 297.83 L396.92 298.02 L397.49 298.21 L398.06 298.41 L398.62 298.61 L399.19 298.83 L399.76 299.05 L400.33 299.27 L400.90 299.50 L401.47 299.73 L402.04 299.97 L402.61 300.21 L403.17 300.46 L403.74 300.71 L404.31 300.96 L404.88 301.21 L405.45 301.46 L406.02 301.72 L406.59 301.98 L407.16 302.24 L407.72 302.50 L408.29 302.76 L408.86 303.03 L409.43 303.29 L410.00 303.56 L410.57 303.83 L411.14 304.09 L411.71 304.36 L412.27 304.63 L412.84 304.90 L413.41 305.17 L413.98 305.44 L414.55 305.71 L415.12 305.98 L415.69 306.25 L416.26 306.52 L416.82 306.80 L417.39 307.07 L417.96 307.34 L418.53 307.61 L419.10 307.88 L419.67 308.16 L420.24 308.43 L420.81 308.70 L421.38 308.97 L421.94 309.25 L422.51 309.52 L423.08 309.79 L423.65 310.07 L424.22 310.34 L424.79 310.61 L425.36 310.88 L425.92 311.16 L426.49 311.43 L427.06 311.70 L427.63 311.98 L428.20 312.25 L428.77 312.52 L429.34 312.80 L429.91 313.07 L430.47 313.34 L431.04 313.62 L431.61 313.89 L432.18 314.16 L432.75 314.44 L433.32 314.71 L433.89 314.99 L434.46 315.26 L435.02 315.53 L435.59 315.81 L436.16 316.08 L436.73 316.35 L437.30 316.63 L437.87 316.90 L438.44 317.17 L439.01 317.45 L439.57 317.72 L440.14 317.99 L440.71 318.27 L441.28 318.54 L441.85 318.81 L442.42 319.09 L442.99 319.36 L443.56 319.63 L444.12 319.91 L444.69 320.18 L445.26 320.45 L445.83 320.73 L446.40 321.00 L446.97 321.28 L447.54 321.55 L448.11 321.82 L448.67 322.10 L449.24 322.37 L449.81 322.64 L450.38 322.92 L450.95 323.19 L451.52 323.46 L452.09 323.74 L452.66 324.01 L453.22 324.28 L453.79 324.56 L454.36 324.83 L454.93 325.10 L455.50 325.38 L456.07 325.65 L456.64 325.92 L457.21 326.20 L457.77 326.47 L458.34 326.75 L458.91 327.02 L459.48 327.29 L460.05 327.57 L460.62 327.84 L461.19 328.11 L461.76 328.39 L462.32 328.66 L462.89 328.93 L463.46 329.21 L464.03 329.48 L464.60 329.75 L465.17 330.03 L465.74 330.30 L466.31 330.57 L466.88 330.85 L467.44 331.12 L468.01 331.39 L468.58 331.67 L469.15 331.94 L469.72 332.22 L470.29 332.49 L470.86 332.76 L471.42 333.04 L471.99 333.31 L472.56 333.58 L473.13 333.86 L473.70 334.13 L474.27 334.40 L474.84 334.68 L475.41 334.95 L475.97 335.22 L476.54 335.50 L477.11 335.77 L477.68 336.04 L478.25 336.32 L478.82 336.59 L479.39 336.86 L479.96 337.14 L480.52 337.41 L481.09 337.69 L481.66 337.96 L482.23 338.23 L482.80 338.51 L483.37 338.78 L483.94 339.05 L484.51 339.33 L485.07 339.60 L485.64 339.87 L486.21 340.15 L486.78 340.42 L487.35 340.69 L487.92 340.97 L488.49 341.24 L489.06 341.51 L489.62 341.79 L490.19 342.06 L490.76 342.33 L491.33 342.61 L491.90 342.88 L492.47 343.16 L493.04 343.43 L493.61 343.70 L494.17 343.98 L494.74 344.25 L495.31 344.52 L495.88 344.80 L496.45 345.07 L497.02 345.34 L497.59 345.62 L498.16 345.89 L498.72 346.16 L499.29 346.44 L499.86 346.71 L500.43 346.98 L501.00 347.26 L501.57 347.53 L502.14 347.80 L502.71 348.08 L503.27 348.35 L503.84 348.63 L504.41 348.90 L504.98 349.17 L505.55 349.45 L506.12 349.72 L506.69 349.99 L507.26 350.27 L507.82 350.54 L508.39 350.81 L508.96 351.09 L509.53 351.36 L510.10 351.63 L510.67 351.91 L511.24 352.18 L511.81 352.45 L512.38 352.73 L512.94 353.00 L513.51 353.27 L514.08 353.55 L514.65 353.82 L515.22 354.10 L515.79 354.37 L516.36 354.64 L516.92 354.92 L517.49 355.19 L518.06 355.46 L518.63 355.74 L519.20 356.01 L519.77 356.28 L520.34 356.56 L520.91 356.83 L521.47 357.10 L522.04 357.38 L522.61 357.65 L523.18 357.92 L523.75 358.20 L524.32 358.47 L524.89 358.74 L525.46 359.02 L526.02 359.29 L526.59 359.57 L527.16 359.84 L527.73 360.11 L528.30 360.39" stroke="#ff1a3c" stroke-width="1.5" fill="none" stroke-linejoin="round" stroke-linecap="round"/>
<path d="M335.7 219.5 V369.2 H540.8" stroke="#000" stroke-width="1.9" fill="none" stroke-linecap="square"/>
<path d="M335.7 219.5 H540.8 V369.2" stroke="#111" stroke-width="1.5" fill="none" stroke-linecap="square"/>
<text x="332.5" y="228.6" font-family='"Liberation Sans", Arial, Helvetica, sans-serif' font-weight="bold" font-size="12" text-anchor="end">10<tspan font-size="8" dy="-6">-3</tspan></text>
<text x="332.5" y="250.48" font-family='"Liberation Sans", Arial, Helvetica, sans-serif' font-weight="bold" font-size="12" text-anchor="end">10<tspan font-size="8" dy="-6">-5</tspan></text>
<text x="332.5" y="272.35999999999996" font-family='"Liberation Sans", Arial, Helvetica, sans-serif' font-weight="bold" font-size="12" text-anchor="end">10<tspan font-size="8" dy="-6">-7</tspan></text>
<text x="332.5" y="294.23999999999995" font-family='"Liberation Sans", Arial, Helvetica, sans-serif' font-weight="bold" font-size="12" text-anchor="end">10<tspan font-size="8" dy="-6">-9</tspan></text>
<text x="332.5" y="316.11999999999995" font-family='"Liberation Sans", Arial, Helvetica, sans-serif' font-weight="bold" font-size="12" text-anchor="end">10<tspan font-size="8" dy="-6">-11</tspan></text>
<text x="332.5" y="337.99999999999994" font-family='"Liberation Sans", Arial, Helvetica, sans-serif' font-weight="bold" font-size="12" text-anchor="end">10<tspan font-size="8" dy="-6">-13</tspan></text>
<text x="332.5" y="359.88" font-family='"Liberation Sans", Arial, Helvetica, sans-serif' font-weight="bold" font-size="12" text-anchor="end">10<tspan font-size="8" dy="-6">-15</tspan></text>
<text x="347.2" y="384.3" font-family='"Liberation Sans", Arial, Helvetica, sans-serif' font-weight="bold" font-size="12" text-anchor="middle">10<tspan font-size="8" dy="-6">5</tspan></text>
<text x="392.7" y="384.3" font-family='"Liberation Sans", Arial, Helvetica, sans-serif' font-weight="bold" font-size="12" text-anchor="middle">10<tspan font-size="8" dy="-6">7</tspan></text>
<text x="438.2" y="384.3" font-family='"Liberation Sans", Arial, Helvetica, sans-serif' font-weight="bold" font-size="12" text-anchor="middle">10<tspan font-size="8" dy="-6">9</tspan></text>
<text x="483.7" y="384.3" font-family='"Liberation Sans", Arial, Helvetica, sans-serif' font-weight="bold" font-size="12" text-anchor="middle">10<tspan font-size="8" dy="-6">11</tspan></text>
<text x="529.1999999999999" y="384.3" font-family='"Liberation Sans", Arial, Helvetica, sans-serif' font-weight="bold" font-size="12" text-anchor="middle">10<tspan font-size="8" dy="-6">13</tspan></text>
<text x="441" y="400.7" font-family='"Liberation Sans", Arial, Helvetica, sans-serif' font-weight="bold" font-size="12" text-anchor="middle">Resistor (<tspan font-weight="normal">Ω</tspan>)</text>
<text transform="translate(301 291.5) rotate(-90)" font-family='"Liberation Sans", Arial, Helvetica, sans-serif' font-weight="bold" font-size="12" text-anchor="middle">Energy per cycle (J)</text>
<path d="M340.2 344.9 H368.2" stroke="#1f3fe0" stroke-width="1.5"/>
<path d="M340.2 360 H368.2" stroke="#ff1a3c" stroke-width="1.5"/>
<text x="371.4" y="349.2" font-family='"Liberation Sans", Arial, Helvetica, sans-serif' font-weight="bold" font-size="12.15" text-anchor="start" >Freestanding mode</text>
<text x="371.4" y="364" font-family='"Liberation Sans", Arial, Helvetica, sans-serif' font-weight="bold" font-size="12.15" text-anchor="start" >Attached mode</text>
</g>
</svg>
</body></html>
